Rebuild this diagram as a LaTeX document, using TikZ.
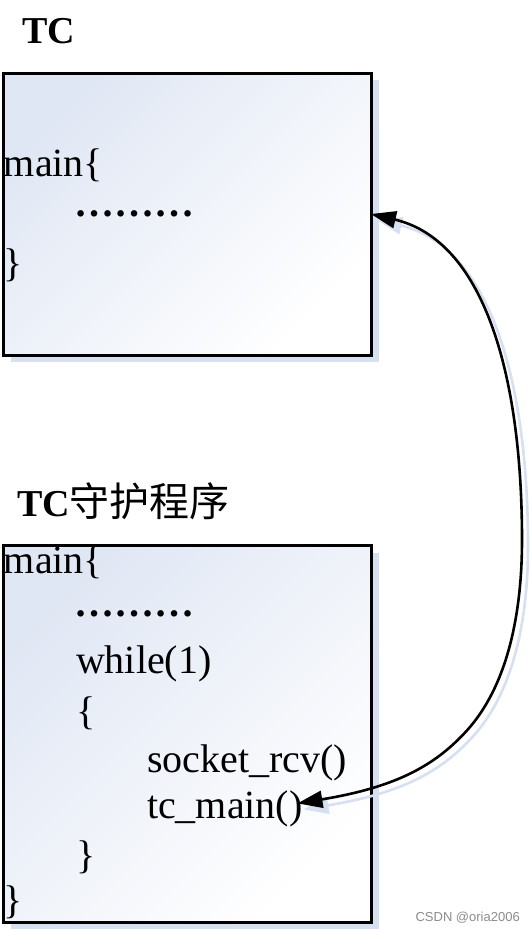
\documentclass[tikz,border=0pt]{standalone}
\usepackage{fontspec}
\setmainfont{Liberation Serif}
\setsansfont{Liberation Sans}
\newfontfamily\cjk{Noto Sans CJK SC}
\usetikzlibrary{arrows.meta,shadows}
\definecolor{boxblue}{HTML}{E0E7F4}
\definecolor{boxmid}{HTML}{F3F6FB}
\definecolor{shadowblue}{HTML}{D6E0F0}
\definecolor{wmgray}{HTML}{8C8C8C}
\begin{document}
\begin{tikzpicture}[x=1pt,y=-1pt,
  box/.style={draw=black, line width=3pt, rectangle, inner sep=0pt, outer sep=0pt,
    anchor=north west, top color=boxblue, middle color=boxmid, bottom color=white, shading angle=45,
    drop shadow={shadow xshift=8pt, shadow yshift=-7pt, fill=shadowblue, opacity=1}},
  code/.style={anchor=base west, inner sep=0pt, outer sep=0pt, font=\fontsize{40}{48}\selectfont},
  title/.style={anchor=base west, inner sep=0pt, outer sep=0pt, font=\fontsize{38}{46}\selectfont\bfseries},
  conn/.style={line width=2.6pt, {Triangle[length=25pt,width=17pt]}-{Triangle[length=25pt,width=17pt]}},
  connshadow/.style={conn, draw=shadowblue}]
\useasboundingbox[fill=white] (0,0) rectangle (531,932);

% titles
\node[title] (t1) at (22,43) {TC};
\node[title] (t2) at (17,516) {TC{\cjk\mdseries\fontsize{40}{46}\selectfont 守护程序}};

% boxes
\node[box, minimum width=368pt, minimum height=282pt] (tcbox) at (3,73) {};
\node[box, minimum width=368pt, minimum height=376.5pt] (dbox) at (3,545.5) {};

% top box text
\node[code] (m1) at (4,176) {main\{};
\node[code] (d1) at (74.5,216) {\bfseries ………};
\node[code] (c1) at (4,276) {\}};

% bottom box text
\node[code] (m2) at (4,573) {main\{};
\node[code] (d2) at (74.5,616) {\bfseries ………};
\node[code] (w2) at (76,673) {while(1)};
\node[code] (o2) at (76,724) {\{};
\node[code] (s2) at (147,772) {socket\_rcv()};
\node[code] (tcmain) at (147,818) {tc\_main()};
\node[code] (e2) at (76,868) {\}};
\node[code] (f2) at (4,913) {\}};

\coordinate (tip) at ([xshift=-5pt,yshift=5pt]tcmain.east);
\coordinate (m) at (522,540);
\coordinate (p) at (470,727);

% connector shadow
\begin{scope}[transform canvas={xshift=6pt,yshift=-6pt}]
\draw[connshadow] (tcbox.east) .. controls (482,240) and (522,370) .. (m)
  .. controls (522,610) and (509,681) .. (p)
  .. controls (437,765) and (397,787) .. (tip);
\end{scope}
% connector
\draw[conn] (tcbox.east) .. controls (482,240) and (522,370) .. (m)
  .. controls (522,610) and (509,681) .. (p)
  .. controls (437,765) and (397,787) .. (tip);

% watermark
\node[anchor=base east, inner sep=0pt, font=\sffamily\fontsize{13}{15}\selectfont, text=wmgray] (wm) at (520,921) {CSDN @oria2006};
\end{tikzpicture}
\end{document}
